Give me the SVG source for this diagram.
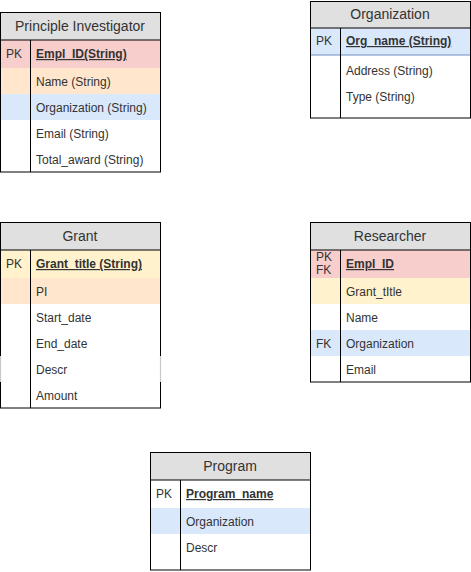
<svg xmlns="http://www.w3.org/2000/svg" width="471" height="572" viewBox="0 0 471 572">
<style>
  .hdr { fill: #e0e0e0; stroke: #000; stroke-width: 1; }
  .box { fill: none; stroke: #000; stroke-width: 1; }
  .div { stroke: #000; stroke-width: 1; }
  .title { font-family: "Liberation Sans", Arial, sans-serif; font-size: 14px; fill: #333; text-anchor: middle; }
  .f { font-family: "Liberation Sans", Arial, sans-serif; font-size: 12px; fill: #333; }
  .k { font-family: "Liberation Sans", Arial, sans-serif; font-size: 12px; fill: #333; }
  .pk { font-weight: bold; text-decoration: underline; }
  .pink { fill: #f8cecc; }
  .orange { fill: #ffe6cc; }
  .blue { fill: #dae8fc; }
  .yellow { fill: #fff2cc; }
</style>
<rect x="0" y="0" width="471" height="572" fill="#ffffff"/>

<g id="principle-investigator">
  <rect class="pink" x="0.5" y="40" width="160" height="28"/>
  <rect class="orange" x="0.5" y="68" width="160" height="26"/>
  <rect class="blue" x="0.5" y="94" width="160" height="26"/>
  <rect class="hdr" x="0.5" y="12.5" width="160" height="27.5"/>
  <rect class="box" x="0.5" y="12.5" width="160" height="159.5"/>
  <line class="div" x1="30.5" y1="40" x2="30.5" y2="172"/>
  <text class="title" x="80" y="31">Principle Investigator</text>
  <text class="k" x="6" y="58">PK</text>
  <text class="f pk" x="36" y="58">Empl_ID(String)</text>
  <text class="f" x="36" y="86">Name (String)</text>
  <text class="f" x="36" y="112">Organization (String)</text>
  <text class="f" x="36" y="138">Email (String)</text>
  <text class="f" x="36" y="164">Total_award (String)</text>
</g>

<g id="organization">
  <rect class="blue" x="310.5" y="28" width="160" height="27"/>
  <line x1="310.5" y1="55" x2="470.5" y2="55" stroke="#6c8ebf" stroke-width="1"/>
  <rect class="hdr" x="310.5" y="1.5" width="160" height="26.5"/>
  <rect class="box" x="310.5" y="1.5" width="160" height="116.5"/>
  <line class="div" x1="340.5" y1="28" x2="340.5" y2="118"/>
  <text class="title" x="390" y="19">Organization</text>
  <text class="k" x="316" y="45">PK</text>
  <text class="f pk" x="346" y="45">Org_name (String)</text>
  <text class="f" x="346" y="75">Address (String)</text>
  <text class="f" x="346" y="101">Type (String)</text>
</g>

<g id="grant">
  <rect class="yellow" x="0.5" y="250" width="160" height="28"/>
  <rect class="orange" x="0.5" y="278" width="160" height="26"/>
  <rect class="hdr" x="0.5" y="222.5" width="160" height="27.5"/>
  <rect class="box" x="0.5" y="222.5" width="160" height="185.5"/>
  <line x1="0.5" y1="356" x2="0.5" y2="382" stroke="#c8c8c8" stroke-width="1.2"/>
  <line x1="160.5" y1="356" x2="160.5" y2="382" stroke="#c8c8c8" stroke-width="1.2"/>
  <line class="div" x1="30.5" y1="250" x2="30.5" y2="408"/>
  <text class="title" x="80" y="241">Grant</text>
  <text class="k" x="6" y="268">PK</text>
  <text class="f pk" x="36" y="268">Grant_title (String)</text>
  <text class="f" x="36" y="296">PI</text>
  <text class="f" x="36" y="322">Start_date</text>
  <text class="f" x="36" y="348">End_date</text>
  <text class="f" x="36" y="374">Descr</text>
  <text class="f" x="36" y="400">Amount</text>
</g>

<g id="researcher">
  <rect class="pink" x="310.5" y="250" width="160" height="28"/>
  <rect class="yellow" x="310.5" y="278" width="160" height="26"/>
  <rect class="blue" x="310.5" y="330" width="160" height="26"/>
  <rect class="hdr" x="310.5" y="222.5" width="160" height="27.5"/>
  <rect class="box" x="310.5" y="222.5" width="160" height="159.5"/>
  <line class="div" x1="340.5" y1="250" x2="340.5" y2="382"/>
  <text class="title" x="390" y="241">Researcher</text>
  <text class="k" x="316" y="261">PK</text>
  <text class="k" x="316" y="274">FK</text>
  <text class="f pk" x="346" y="268">Empl_ID</text>
  <text class="f" x="346" y="296">Grant_tItle</text>
  <text class="f" x="346" y="322">Name</text>
  <text class="k" x="316" y="348">FK</text>
  <text class="f" x="346" y="348">Organization</text>
  <text class="f" x="346" y="374">Email</text>
</g>

<g id="program">
  <rect class="blue" x="150.5" y="508" width="160" height="26"/>
  <rect class="hdr" x="150.5" y="452.5" width="160" height="27.5"/>
  <rect class="box" x="150.5" y="452.5" width="160" height="117.5"/>
  <line class="div" x1="180.5" y1="480" x2="180.5" y2="570"/>
  <text class="title" x="230" y="471">Program</text>
  <text class="k" x="156" y="498">PK</text>
  <text class="f pk" x="186" y="498">Program_name</text>
  <text class="f" x="186" y="526">Organization</text>
  <text class="f" x="186" y="552">Descr</text>
</g>

<g id="connectors"></g>
</svg>
